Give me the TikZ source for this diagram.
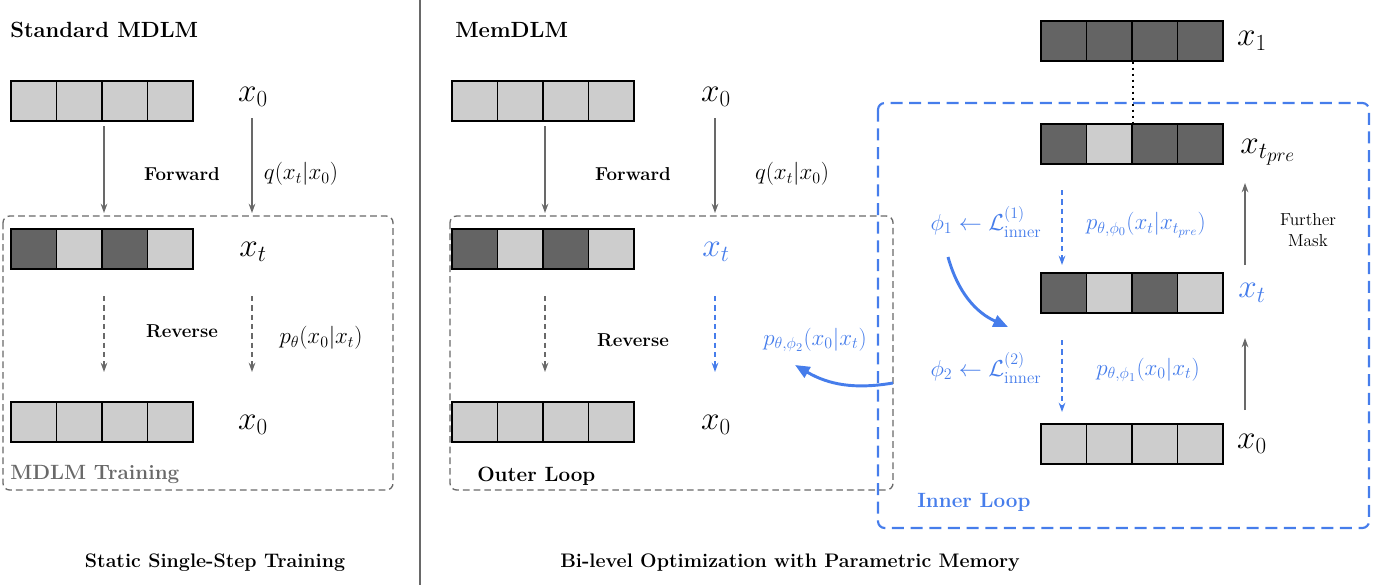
\documentclass[tikz,border=0pt]{standalone}
\usepackage{amsmath}
\usepackage{amssymb}
\usepackage{tikz}
\usetikzlibrary{calc,arrows.meta}
\definecolor{memblue}{RGB}{70,125,235}
\definecolor{tokdark}{RGB}{100,100,100}
\definecolor{toklight}{RGB}{205,205,205}
\definecolor{linegray}{RGB}{105,105,105}
\tikzset{
  cell/.style={draw=black,line width=1.1pt,minimum width=34.1pt,minimum height=30pt,inner sep=0pt},
  lbl/.style={inner sep=0.75pt,font=\fontsize{27}{30}\selectfont},
  mlbl/.style={inner sep=0.75pt,font=\fontsize{18}{21}\selectfont},
  phase/.style={inner sep=0.75pt,font=\fontsize{14}{17}\selectfont\bfseries},
  fwd/.style={draw=linegray,line width=1pt,-{Stealth[length=7pt,width=5pt]}},
  rev/.style={fwd,dash pattern=on 4pt off 3pt},
  brev/.style={rev,draw=memblue},
  loopbox/.style={dash pattern=on 5pt off 3pt,rounded corners=5pt,line width=1pt},
  swing/.style={draw=memblue,line width=2.2pt,-{Triangle[length=11pt,width=9pt]}},
}
% name, centre, cell colours
\newcommand{\tokbar}[3]{%
  \foreach \c [count=\i] in {#3} {%
    \node[cell,fill=\c] (#1-\i) at ($(#2)+(\i*45.5-113.75,0)$) {};}%
}
\begin{document}
\begin{tikzpicture}[x=0.75pt,y=0.75pt,yscale=-1,xscale=1]
\useasboundingbox (0,0) rectangle (1376,585);

% separator and titles
\draw [linegray,line width=1.2pt] (420,0) -- (420,585);
\node [anchor=west,inner sep=0pt,font=\fontsize{16.5}{19}\selectfont\bfseries] (ttl1) at (10,30) {Standard MDLM};
\node [anchor=west,inner sep=0pt,font=\fontsize{16.5}{19}\selectfont\bfseries] (ttl2) at (455,30) {MemDLM};
\node [font=\fontsize{14.7}{17}\selectfont\bfseries] (cap1) at (215,563) {Static Single-Step Training};
\node [font=\fontsize{14.7}{17}\selectfont\bfseries] (cap2) at (790,563) {Bi-level Optimization with Parametric Memory};

% left: standard MDLM
\tokbar{la}{102,101}{toklight,toklight,toklight,toklight}
\tokbar{lb}{102,249}{tokdark,toklight,tokdark,toklight}
\tokbar{lc}{102,422}{toklight,toklight,toklight,toklight}
\node [lbl] (lx0) at (253,97) {$x_0$};
\node [lbl] (lxt) at (253,252) {$x_t$};
\node [lbl] (lx0b) at (253,425) {$x_0$};
\coordinate (la0) at (104,126); \coordinate (la1) at (104,213);
\coordinate (lq0) at (252,118); \coordinate (lq1) at (252,213);
\coordinate (lr0) at (104,296); \coordinate (lr1) at (104,372);
\coordinate (lp0) at (252,296); \coordinate (lp1) at (252,372);
\draw [fwd] (la0) -- (la1);
\draw [fwd] (lq0) -- (lq1);
\draw [rev] (lr0) -- (lr1);
\draw [rev] (lp0) -- (lp1);
\node [phase] (lfw) at (182,174) {Forward};
\node [mlbl] (lq) at (301,174) {$q(x_t|x_0)$};
\node [phase] (lrv) at (182,331) {Reverse};
\node [mlbl] (lp) at (321,338) {$p_\theta(x_0|x_t)$};
\draw [loopbox,draw=linegray] (3,216) rectangle (393,490);
\node [anchor=west,inner sep=0pt,font=\fontsize{15.5}{18}\selectfont\bfseries,text=linegray] (ltr) at (10,474) {MDLM Training};

% middle: outer loop
\tokbar{ma}{543,101}{toklight,toklight,toklight,toklight}
\tokbar{mb}{543,249}{tokdark,toklight,tokdark,toklight}
\tokbar{mc}{543,422}{toklight,toklight,toklight,toklight}
\node [lbl] (mx0) at (716,97) {$x_0$};
\node [lbl,text=memblue] (mxt) at (716,252) {$x_t$};
\node [lbl] (mx0b) at (716,425) {$x_0$};
\coordinate (ma0) at (545,126); \coordinate (ma1) at (545,213);
\coordinate (mq0) at (715,118); \coordinate (mq1) at (715,213);
\coordinate (mr0) at (545,296); \coordinate (mr1) at (545,372);
\coordinate (mp0) at (715,296); \coordinate (mp1) at (715,372);
\draw [fwd] (ma0) -- (ma1);
\draw [fwd] (mq0) -- (mq1);
\draw [rev] (mr0) -- (mr1);
\draw [brev] (mp0) -- (mp1);
\node [phase] (mfw) at (633,174) {Forward};
\node [mlbl] (mq) at (792,174) {$q(x_t|x_0)$};
\node [phase] (mrv) at (633,340) {Reverse};
\node [mlbl,text=memblue] (mp) at (815,340) {$p_{\theta,\phi_2}(x_0|x_t)$};
\draw [loopbox,draw=linegray] (450,216) rectangle (893,490);
\node [anchor=west,inner sep=0pt,font=\fontsize{15.5}{18}\selectfont\bfseries] (mol) at (477,476) {Outer Loop};

% right: inner loop
\tokbar{ra}{1132,41}{tokdark,tokdark,tokdark,tokdark}
\tokbar{rb}{1132,144}{tokdark,toklight,tokdark,tokdark}
\tokbar{rc}{1132,293}{tokdark,toklight,tokdark,toklight}
\tokbar{rd}{1132,444}{toklight,toklight,toklight,toklight}
\node [lbl] (rx1) at (1252,41) {$x_1$};
\node [lbl] (rxp) at (1268,152) {$x_{t_{pre}}$};
\node [lbl,text=memblue] (rxt) at (1252,293) {$x_t$};
\node [lbl] (rx0) at (1252,444) {$x_0$};
\draw [line width=1.8pt,dash pattern=on 1.5pt off 3pt] (ra-2.south east) -- (rb-2.north east);
\coordinate (rp0) at (1062,190); \coordinate (rp1) at (1062,265);
\coordinate (rs0) at (1062,340); \coordinate (rs1) at (1062,412);
\coordinate (rm0) at (1245,410); \coordinate (rm1) at (1245,338);
\coordinate (rn0) at (1245,265); \coordinate (rn1) at (1245,183);
\draw [brev] (rp0) -- (rp1);
\draw [brev] (rs0) -- (rs1);
\draw [fwd] (rm0) -- (rm1);
\draw [fwd] (rn0) -- (rn1);
\node [inner sep=0.75pt,font=\fontsize{13}{16}\selectfont,align=center] (rfm) at (1308,230) {Further\\Mask};
\node [mlbl,text=memblue] (rl1) at (986,222) {$\phi_1 \leftarrow \mathcal{L}^{(1)}_{\text{inner}}$};
\node [mlbl,text=memblue] (rpa) at (1146,225) {$p_{\theta,\phi_0}(x_t|x_{t_{pre}})$};
\node [mlbl,text=memblue] (rl2) at (986,368) {$\phi_2 \leftarrow \mathcal{L}^{(2)}_{\text{inner}}$};
\node [mlbl,text=memblue] (rpb) at (1148,370) {$p_{\theta,\phi_1}(x_0|x_t)$};
\draw [loopbox,draw=memblue,line width=1.6pt,dash pattern=on 9pt off 5pt] (878,103) rectangle (1369,528);
\node [anchor=west,inner sep=0pt,font=\fontsize{15.5}{18}\selectfont\bfseries,text=memblue] (ril) at (917,502) {Inner Loop};

% memory hand-off
\coordinate (h0) at (948,257); \coordinate (h1) at (1008,327);
\coordinate (g0) at (893,383); \coordinate (g1) at (795,365);
\draw [swing] (h0) to[bend left=25] (h1);
\draw [swing] (g0) to[bend right=20] (g1);

\end{tikzpicture}
\end{document}
